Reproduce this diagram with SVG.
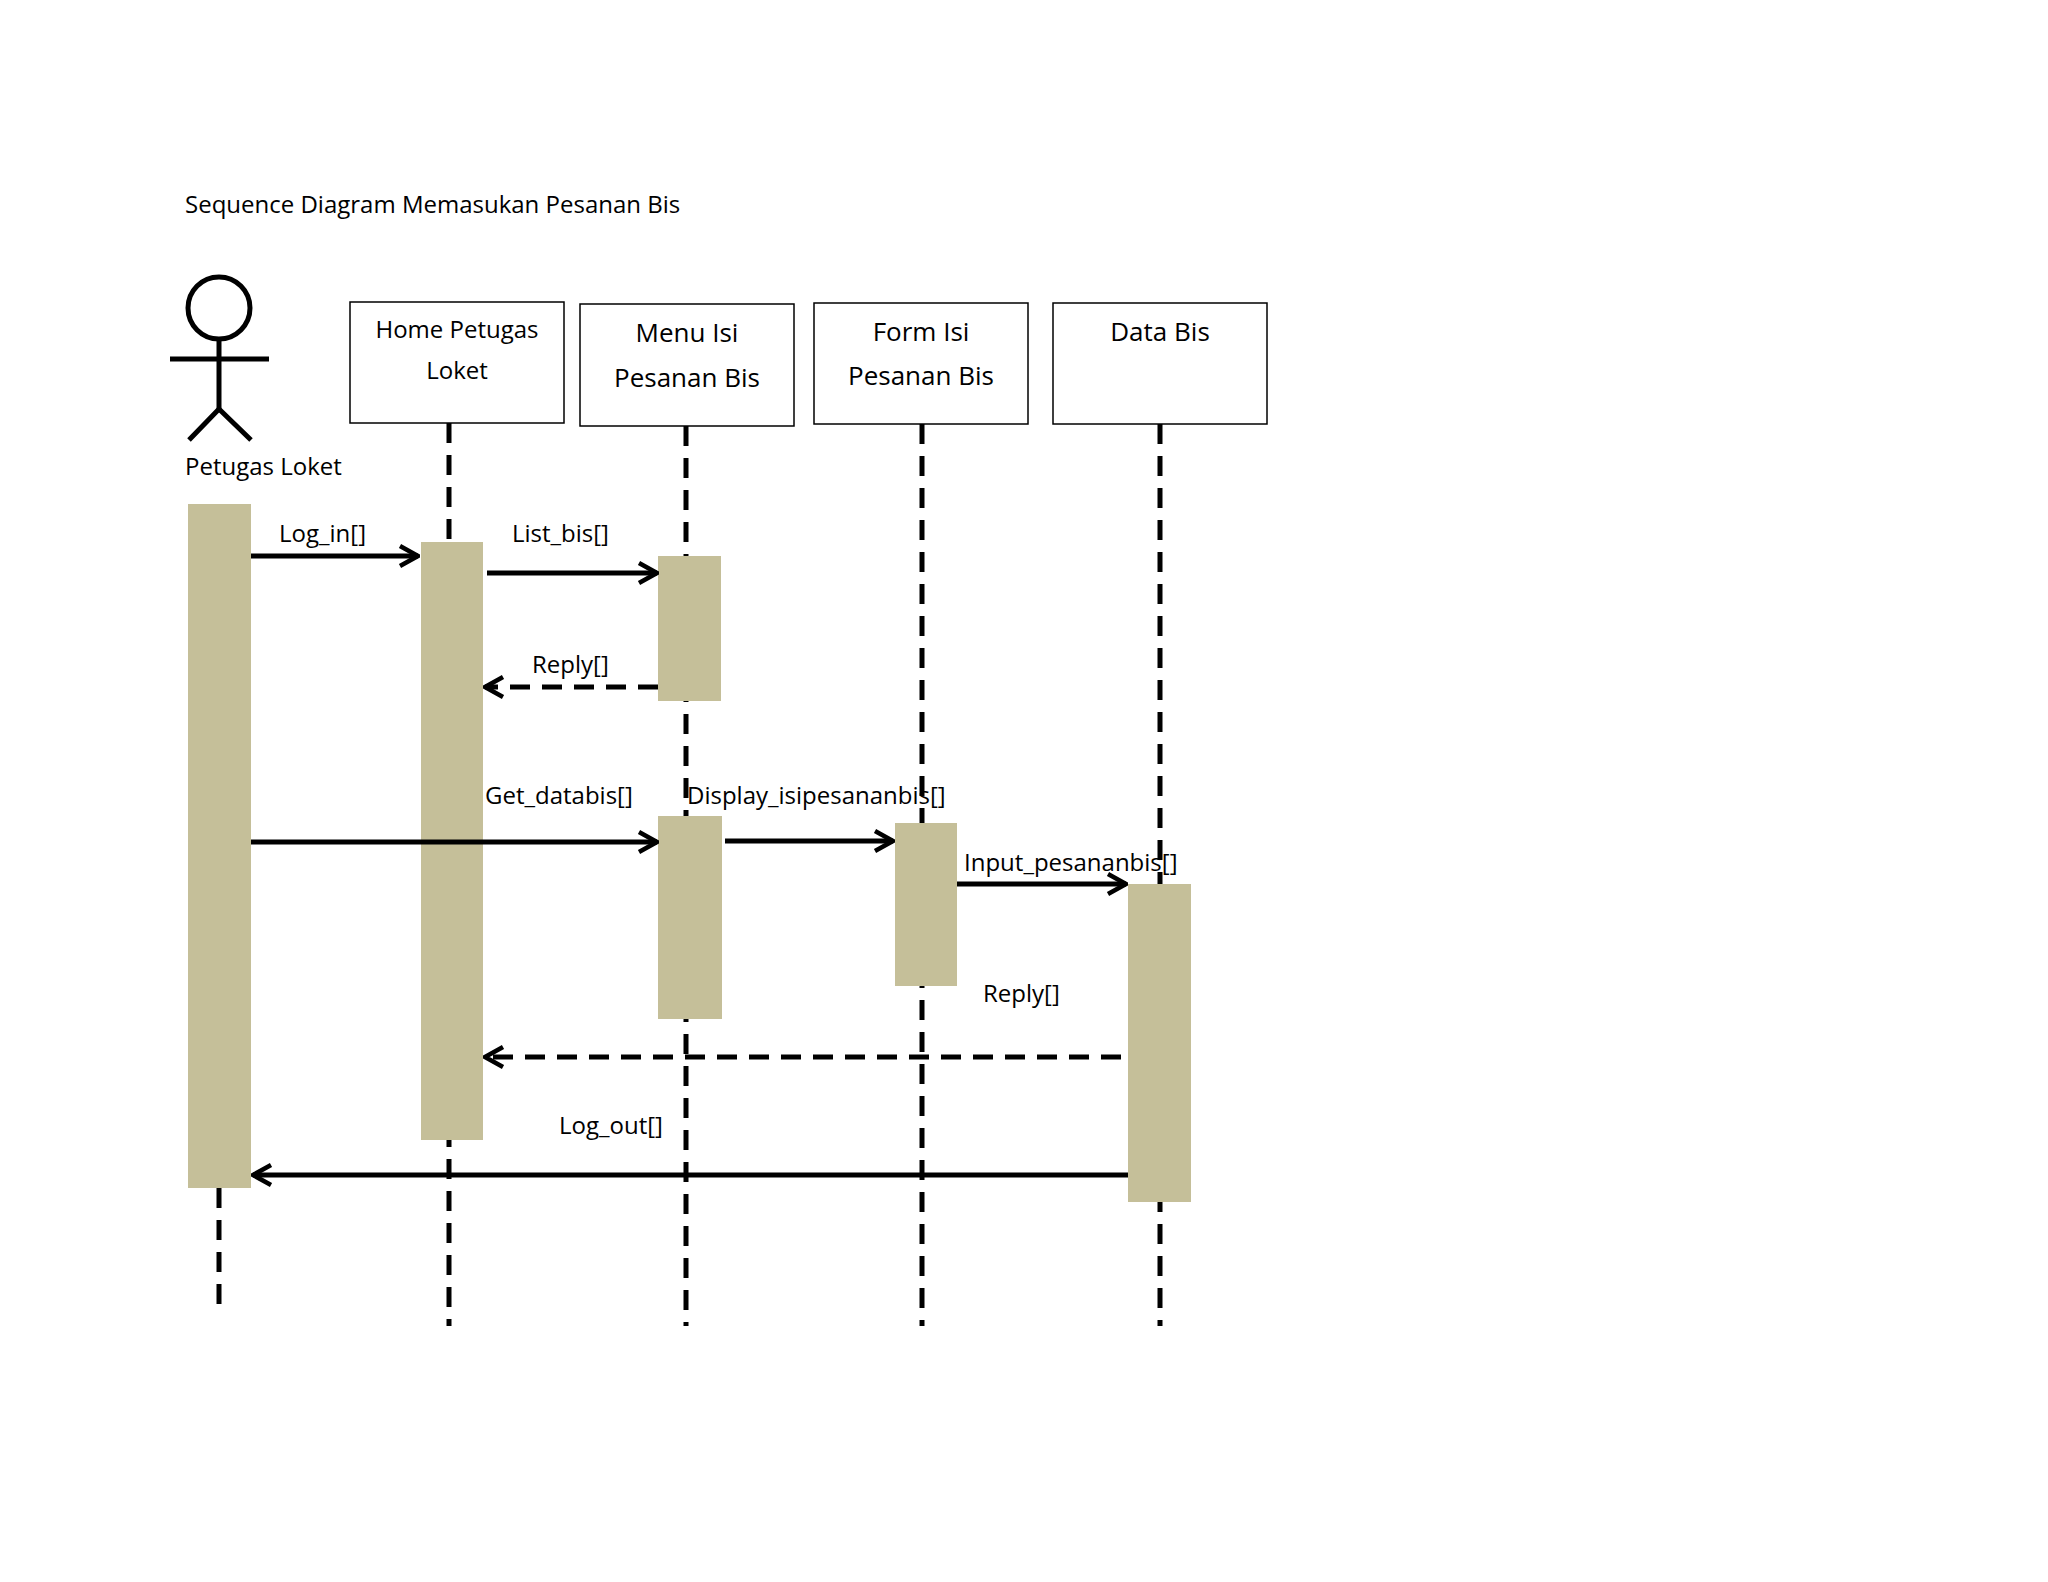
<svg xmlns="http://www.w3.org/2000/svg" width="2048" height="1582" viewBox="0 0 2048 1582">
<style>
text{font-family:"Open Sans","Liberation Sans",sans-serif;font-size:24px;fill:#000}
.box{fill:#fff;stroke:#000;stroke-width:1.5}
.life{stroke:#000;stroke-width:5;stroke-dasharray:20 12;fill:none}
.act{fill:#c5bf99}
.msg{stroke:#000;stroke-width:5;fill:none}
.dash{stroke-dasharray:20 12}
.c{text-anchor:middle}
</style>
<defs>
<marker id="ah" markerWidth="12" markerHeight="12" refX="10" refY="6" orient="auto" markerUnits="userSpaceOnUse" viewBox="0 0 12 12">
<path d="M0,0 L10,6 L0,12" fill="none" stroke="#000" stroke-width="2"/>
</marker>
<marker id="oa" viewBox="0 0 24 24" refX="22" refY="12" markerWidth="24" markerHeight="24" orient="auto" markerUnits="userSpaceOnUse">
<path d="M4,2 L22,12 L4,22" fill="none" stroke="#000" stroke-width="4.5"/>
</marker>
</defs>
<text x="185" y="213">Sequence Diagram Memasukan Pesanan Bis</text>
<g id="lifelines">
<line class="life" x1="219" y1="1188" x2="219" y2="1313"/>
<line class="life" x1="449" y1="423" x2="449" y2="1326"/>
<line class="life" x1="686" y1="426" x2="686" y2="1326"/>
<line class="life" x1="922" y1="424" x2="922" y2="1326"/>
<line class="life" x1="1160" y1="424" x2="1160" y2="1326"/>
</g>
<g id="actor">
<circle cx="219" cy="308" r="31" fill="none" stroke="#000" stroke-width="5"/>
<line x1="170" y1="359" x2="269" y2="359" stroke="#000" stroke-width="5"/>
<line x1="219" y1="339" x2="219" y2="409" stroke="#000" stroke-width="5"/>
<path d="M189,440 L219,409 L251,440" fill="none" stroke="#000" stroke-width="5"/>
<text x="185" y="475">Petugas Loket</text>
</g>
<g id="home"><rect class="box" x="350" y="302" width="214" height="121"/><text class="c" x="457" y="338">Home Petugas</text><text class="c" x="457" y="379">Loket</text></g>
<g id="menu"><rect class="box" x="580" y="304" width="214" height="122"/><text class="c" x="687" y="342" style="font-size:26px">Menu Isi</text><text class="c" x="687" y="387" style="font-size:26px">Pesanan Bis</text></g>
<g id="form"><rect class="box" x="814" y="303" width="214" height="121"/><text class="c" x="921" y="341" style="font-size:26px">Form Isi</text><text class="c" x="921" y="385" style="font-size:26px">Pesanan Bis</text></g>
<g id="data"><rect class="box" x="1053" y="303" width="214" height="121"/><text class="c" x="1160" y="341" style="font-size:26px">Data Bis</text></g>
<g id="activations">
<rect class="act" x="188" y="504" width="63" height="684"/>
<rect class="act" x="421" y="542" width="62" height="598"/>
<rect class="act" x="658" y="556" width="63" height="145"/>
<rect class="act" x="658" y="816" width="64" height="203"/>
<rect class="act" x="895" y="823" width="62" height="163"/>
<rect class="act" x="1128" y="884" width="63" height="318"/>
</g>
<g id="connectors">
<line class="msg" x1="251" y1="556" x2="418" y2="556" marker-end="url(#oa)"/>
<line class="msg" x1="487" y1="573" x2="657" y2="573" marker-end="url(#oa)"/>
<line class="msg dash" x1="658" y1="687" x2="485" y2="687" marker-end="url(#oa)"/>
<line class="msg" x1="251" y1="842" x2="657" y2="842" marker-end="url(#oa)"/>
<line class="msg" x1="725" y1="841" x2="893" y2="841" marker-end="url(#oa)"/>
<line class="msg" x1="957" y1="884" x2="1126" y2="884" marker-end="url(#oa)"/>
<line class="msg dash" x1="1121" y1="1057" x2="485" y2="1057" marker-end="url(#oa)"/>
<line class="msg" x1="1128" y1="1175" x2="253" y2="1175" marker-end="url(#oa)"/>
<text x="279" y="542">Log_in[]</text>
<text x="512" y="542">List_bis[]</text>
<text x="532" y="673">Reply[]</text>
<text x="485" y="804">Get_databis[]</text>
<text x="687" y="804">Display_isipesananbis[]</text>
<text x="964" y="871">Input_pesananbis[]</text>
<text x="983" y="1002">Reply[]</text>
<text x="559" y="1134">Log_out[]</text>
</g>
</svg>
